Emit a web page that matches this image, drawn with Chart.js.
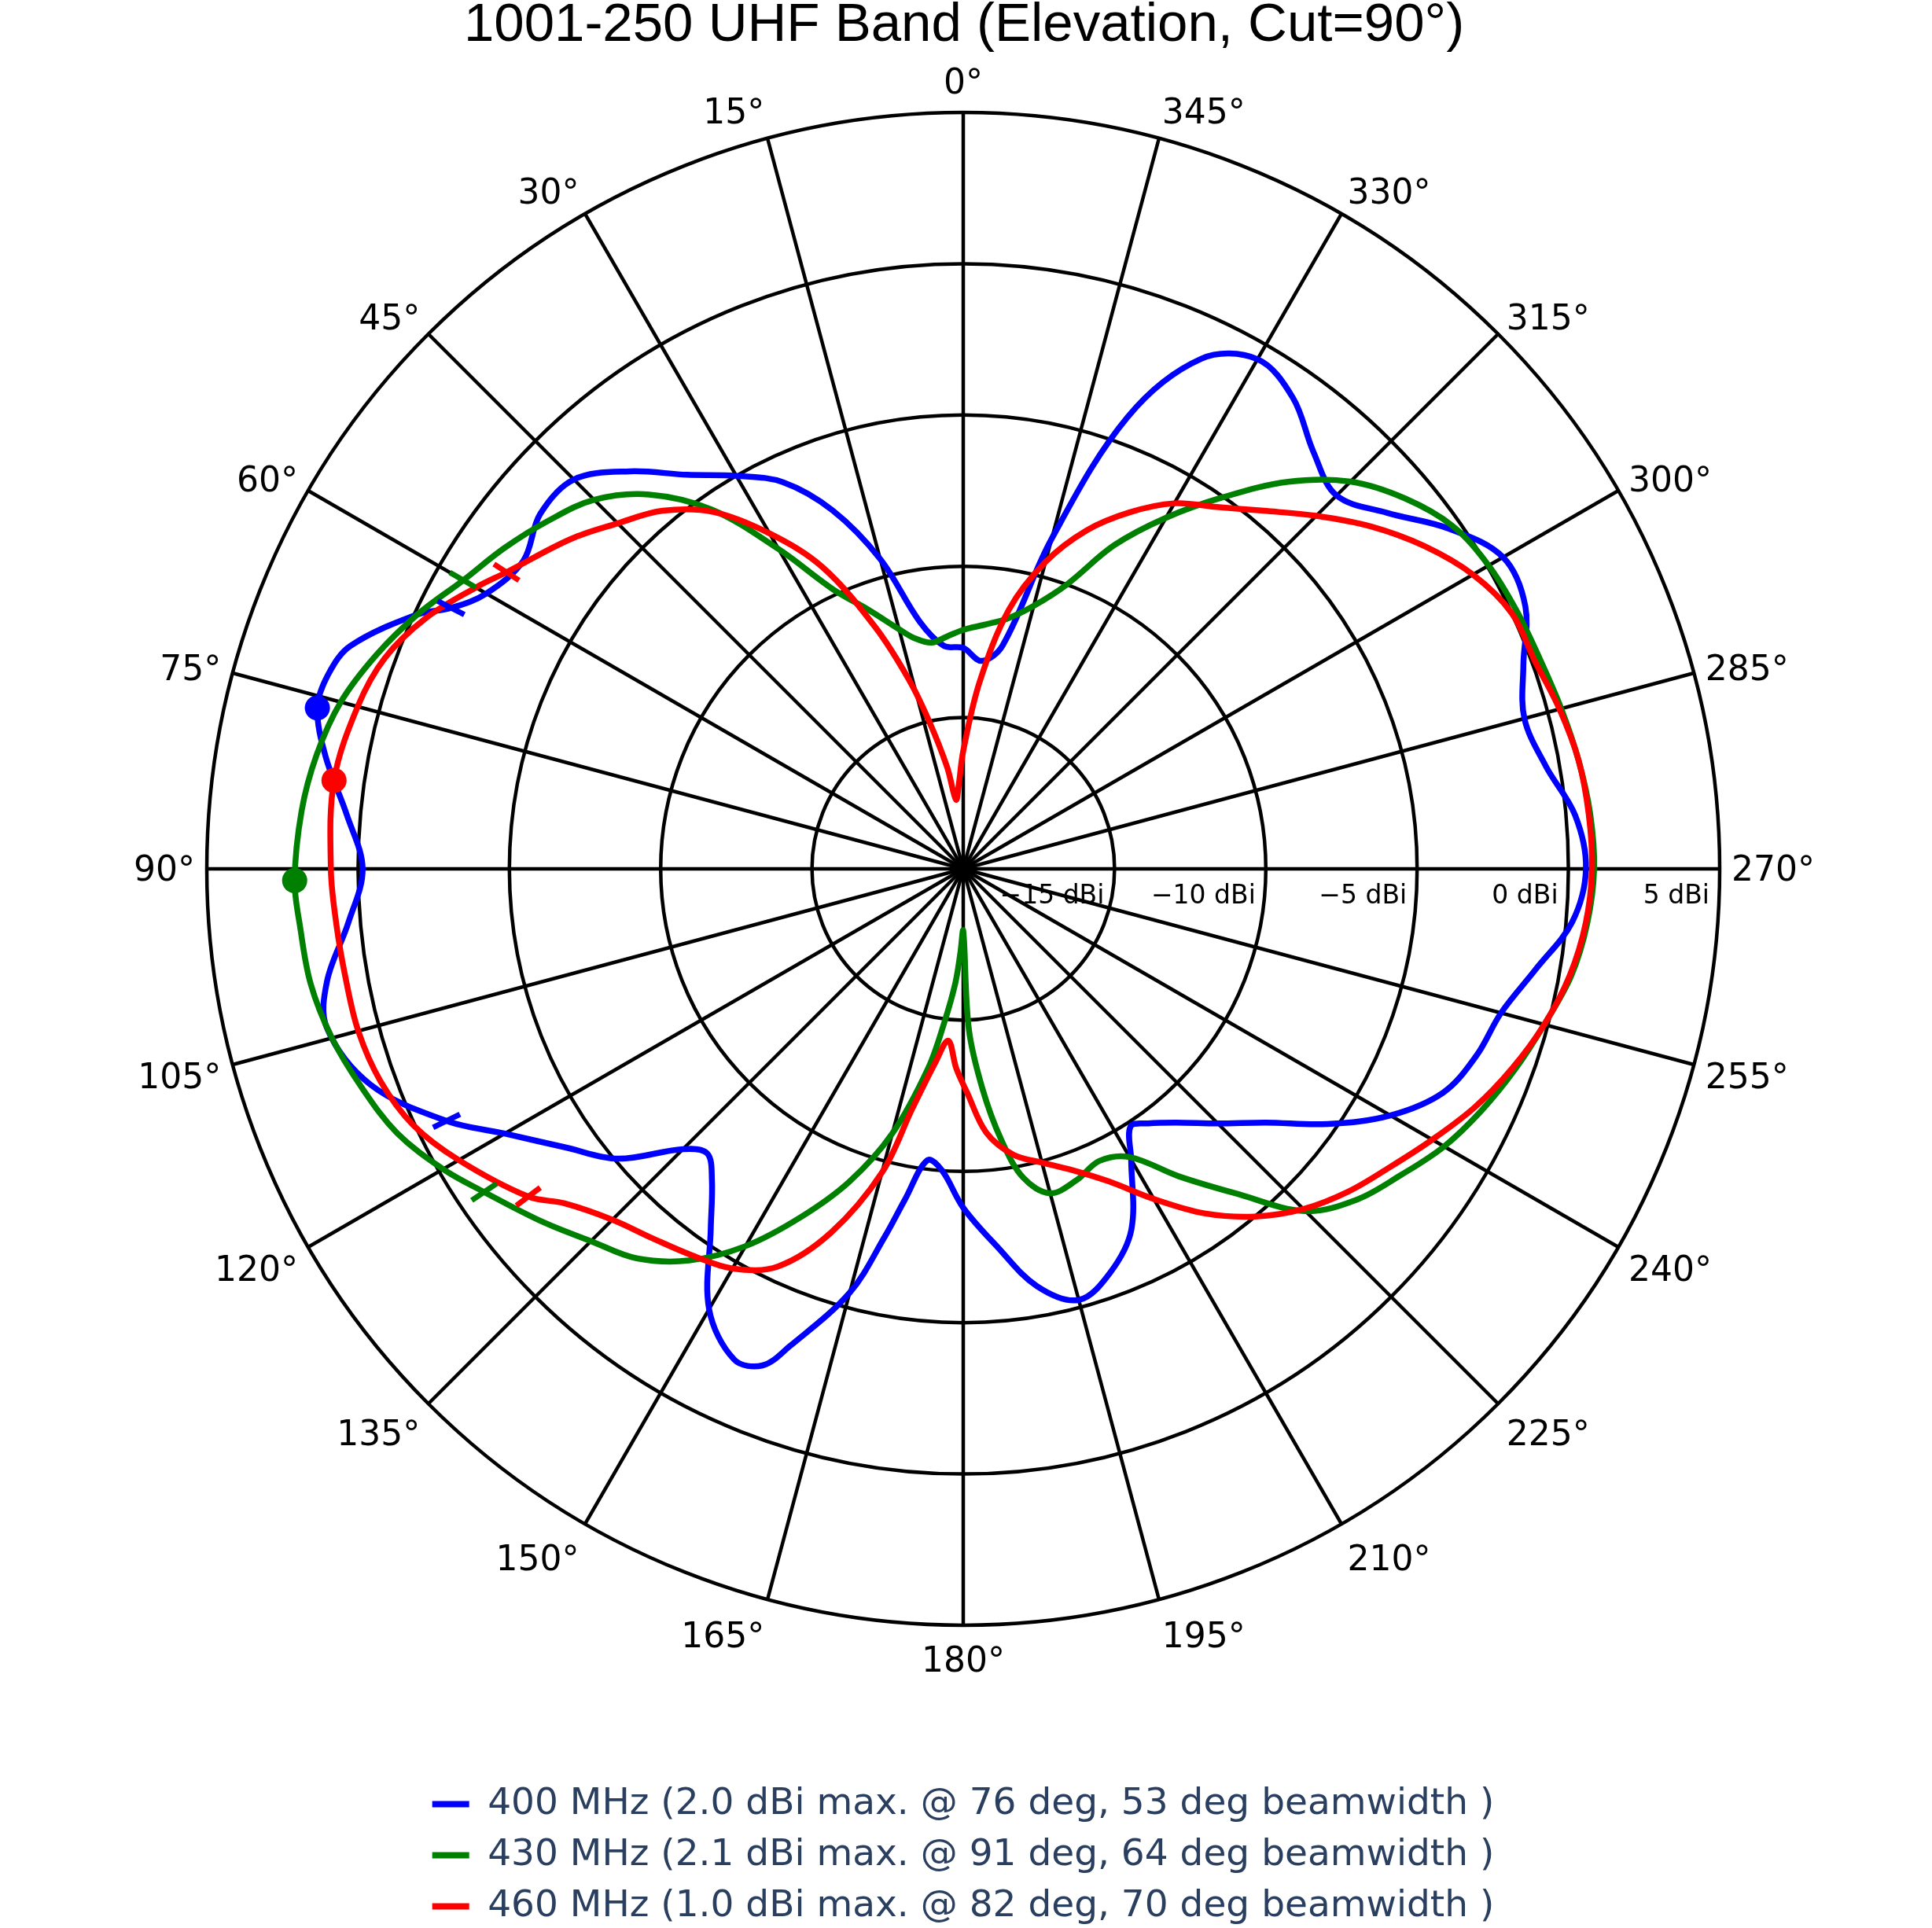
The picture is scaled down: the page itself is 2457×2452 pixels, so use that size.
<!DOCTYPE html>
<html>
<head>
<meta charset="utf-8">
<script src="https://cdn.jsdelivr.net/npm/chart.js@4.4.1/dist/chart.umd.min.js"></script>
<style>
  html, body { margin: 0; padding: 0; background: #fff; }
  #wrap { width: 2457px; height: 2452px; position: relative; }
</style>
</head>
<body>
<div id="wrap"><canvas id="pattern"></canvas></div>
<script>
const titleText = '1001-250 UHF Band (Elevation, Cut=90°)';
const angleTicks = [0, 15, 30, 45, 60, 75, 90, 105, 120, 135, 150, 165, 180, 195, 210, 225, 240, 255, 270, 285, 300, 315, 330, 345];
const radialTicks = [-15, -10, -5, 0, 5];
const radialTickLabels = ['−15 dBi', '−10 dBi', '−5 dBi', '0 dBi', '5 dBi'];

const seriesNames = [
  '400 MHz (2.0 dBi max. @ 76 deg, 53 deg beamwidth )',
  '430 MHz (2.1 dBi max. @ 91 deg, 64 deg beamwidth )',
  '460 MHz (1.0 dBi max. @ 82 deg, 70 deg beamwidth )'
];
const seriesColors = ['#0000ff', '#008000', '#ff0000'];

// 400 MHz
const blueAngles = [0, 5, 10, 15, 20, 25, 30, 35, 40, 45, 50, 55, 60, 63, 65, 70, 73, 76, 80, 85,
  90, 95, 100, 104, 110, 116, 120, 125, 130, 135, 138, 141, 145, 150, 155, 158, 160, 165, 168, 170,
  173, 176, 180, 185, 190, 195, 200, 205, 210, 213, 216, 220, 225, 230, 235, 240, 245, 250, 255, 260,
  265, 270, 275, 280, 285, 290, 295, 300, 305, 310, 315, 320, 325, 330, 335, 340, 345, 350, 355];
const blueGain = [-12.7, -12.6, -11.7, -9.4, -7.4, -5.9, -5.0, -4.1, -2.85, -1.8, -1.75, -2.25, -1.8, -1.0, -0.1, 1.55, 1.95, 2.0, 1.4, 0.45,
  -0.15, 0.4, 1.35, 1.68, 0.85, -1.0, -2.5, -3.95, -5.1, -6.9, -7.35, -6.8, -5.45, -3.2, -2.1, -2.3, -3.2, -5.5, -7.6, -8.9,
  -10.3, -10.0, -8.8, -7.5, -6.0, -5.25, -5.8, -6.85, -8.9, -9.85, -9.6, -9.05, -8.1, -6.95, -5.3, -3.7, -2.5, -1.95, -1.6, -0.8,
  0.2, 0.58, 0.3, -0.45, -0.8, -0.3, 0.5, 0.6, -0.4, -1.7, -2.55, -2.0, -1.0, -0.55, -1.4, -4.1, -8.7, -12.5, -13.1];

// 430 MHz
const greenAngles = [0, 4, 8, 12, 15, 20, 25, 30, 35, 40, 45, 50, 55, 60, 65, 70, 75, 80, 85, 91,
  95, 100, 105, 110, 115, 120, 124, 130, 135, 140, 145, 150, 155, 160, 165, 170, 173, 176, 178, 180,
  182, 185, 188, 191, 195, 200, 205, 210, 215, 220, 225, 230, 235, 240, 245, 250, 255, 260, 265, 270,
  275, 280, 285, 290, 295, 300, 305, 310, 315, 320, 325, 330, 335, 340, 345, 350, 355];
const greenGain = [-12.1, -12.3, -12.45, -12.2, -11.8, -10.9, -9.8, -7.8, -5.5, -3.85, -2.75, -2.1, -1.5, -0.92, -0.1, 0.65, 1.3, 1.7, 1.95, 2.1,
  2.0, 1.9, 1.6, 1.15, 0.65, -0.15, -0.9, -1.85, -2.6, -3.2, -4.2, -5.6, -7.3, -9.0, -10.95, -13.3, -14.9, -16.2, -17.2, -17.95,
  -14.7, -12.7, -10.95, -9.6, -8.9, -9.05, -9.35, -9.0, -7.6, -6.0, -4.0, -3.0, -2.35, -1.65, -1.1, -0.6, -0.12, 0.4, 0.7, 0.85,
  0.8, 0.65, 0.46, 0.28, 0.18, 0.05, -0.25, -0.95, -1.9, -3.3, -5.0, -6.6, -8.2, -10.0, -11.0, -11.6, -11.9];

// 460 MHz
const redAngles = [0, 3, 6, 9, 13, 16, 20, 25, 30, 35, 40, 45, 50, 57, 60, 65, 70, 75, 82, 90,
  95, 100, 105, 110, 115, 120, 127, 130, 135, 140, 145, 150, 155, 160, 165, 168, 172, 175, 178, 181,
  185, 190, 195, 200, 205, 210, 215, 220, 225, 230, 235, 240, 245, 250, 255, 260, 265, 270, 275, 280,
  285, 290, 295, 300, 305, 310, 315, 320, 325, 330, 335, 340, 345, 350, 355];
const redGain = [-16.1, -17.2, -17.7, -16.6, -15.0, -13.5, -11.5, -9.0, -7.2, -5.6, -4.55, -3.85, -3.05, -2.0, -1.4, -0.4, 0.35, 0.72, 1.0, 0.9,
  0.8, 0.73, 0.7, 0.5, 0.05, -0.75, -2.0, -2.8, -3.6, -4.05, -4.4, -4.75, -5.5, -7.2, -9.6, -11.9, -13.6, -14.3, -13.4, -12.6,
  -11.25, -10.4, -9.95, -9.4, -8.6, -7.4, -6.1, -5.0, -4.1, -3.4, -2.8, -2.1, -1.35, -0.7, -0.12, 0.35, 0.65, 0.78, 0.75, 0.65,
  0.4, 0.1, 0.0, -0.55, -1.4, -2.4, -3.5, -4.55, -5.4, -6.05, -7.0, -8.1, -9.5, -11.3, -13.8];

// max markers and -3 dB beam edges
const peakAngles = [76, 91, 82];
const peakGain = [2.0, 2.1, 1.0];
const edgeAngles = [[63, 116], [60, 124], [57, 127]];
const edgeGain = [-1.0, -0.9, -2.0];

// radar runs clockwise, the pattern counter-clockwise: one label per degree
const labels = Array.from({length: 360}, (_, i) => (360 - i) % 360);
const toIndex = a => (360 - a) % 360;
function spread(angles, values) {
  const out = new Array(360).fill(null);
  angles.forEach((a, k) => { out[toIndex(a)] = values[k]; });
  return out;
}

const curves = [[blueAngles, blueGain], [greenAngles, greenGain], [redAngles, redGain]];

const datasets = curves.map(([a, g], k) => ({
  label: seriesNames[k],
  data: spread(a, g),
  borderColor: seriesColors[k],
  backgroundColor: seriesColors[k],
  borderWidth: 7.5,
  borderJoinStyle: 'round',
  borderCapStyle: 'round',
  pointRadius: 0,
  pointHoverRadius: 0,
  tension: 0.35,
  spanGaps: true,
  fill: false,
  order: 6 - k
}));

seriesColors.forEach((c, k) => {
  datasets.push({
    label: 'edge' + k,
    data: spread(edgeAngles[k], [edgeGain[k], edgeGain[k]]),
    showLine: false,
    pointStyle: 'line',
    pointRadius: 19,
    pointBorderWidth: 7,
    pointBorderColor: c,
    pointBackgroundColor: c,
    pointRotation: ctx => 90 - labels[ctx.dataIndex],
    order: 2
  });
  datasets.push({
    label: 'peak' + k,
    data: spread([peakAngles[k]], [peakGain[k]]),
    showLine: false,
    pointStyle: 'circle',
    pointRadius: 16,
    pointBorderWidth: 0,
    pointBackgroundColor: c,
    pointBorderColor: c,
    order: 1
  });
});

const polarText = {
  id: 'polarText',
  afterDraw(chart) {
    const {ctx} = chart;
    const r = chart.scales.r;
    ctx.save();
    ctx.fillStyle = '#000';
    ctx.textBaseline = 'alphabetic';

    ctx.font = '69px "Liberation Sans", Arial, sans-serif';
    ctx.textAlign = 'center';
    ctx.fillText(titleText, r.xCenter + 1, 52);

    // angular tick labels, placed like plotly does
    const fs = 44, pad = 15;
    ctx.font = fs + 'px "DejaVu Sans"';
    angleTicks.forEach(a => {
      const p = r.getPointPosition(toIndex(a), r.drawingArea);
      const rad = (90 + a) * Math.PI / 180;
      const c = Math.cos(rad), s = Math.sin(rad);
      const ff = s > 0 ? 0.2 : 1;
      const x = p.x + c * pad;
      const y = p.y - s * (pad + fs * ff) + Math.abs(c) * fs * 0.35;
      ctx.textAlign = Math.abs(c) < 0.1 ? 'center' : (c > 0 ? 'left' : 'right');
      ctx.fillText(a + '°', x, y);
    });

    // radial tick labels along the 270° spoke
    ctx.font = '33px "DejaVu Sans"';
    ctx.textAlign = 'right';
    radialTicks.forEach((v, k) => {
      const d = r.getDistanceFromCenterForValue(v);
      ctx.fillText(radialTickLabels[k], r.xCenter + d - 13, r.yCenter + 44);
    });
    ctx.restore();
  }
};

new Chart(document.getElementById('pattern'), {
  type: 'radar',
  data: { labels, datasets },
  options: {
    responsive: true,
    maintainAspectRatio: false,
    animation: false,
    devicePixelRatio: 1,
    layout: { padding: { left: 263, right: 270, top: 0, bottom: -6 } },
    scales: {
      r: {
        min: -20,
        max: 5,
        startAngle: 0,
        ticks: { display: false, stepSize: 5 },
        grid: { circular: true, color: '#000', lineWidth: 4.5 },
        angleLines: {
          display: true,
          color: ctx => ctx.index % 15 === 0 ? '#000' : 'rgba(0,0,0,0)',
          lineWidth: ctx => ctx.index % 15 === 0 ? 4.5 : 0
        },
        pointLabels: { display: false }
      }
    },
    plugins: {
      tooltip: { enabled: false },
      legend: {
        position: 'bottom',
        title: { display: true, text: '', font: { size: 10 }, padding: { top: 12, bottom: 19 } },
        labels: {
          boxWidth: 47,
          boxHeight: 8,
          padding: 18,
          color: '#2a3f5f',
          font: { family: 'DejaVu Sans', size: 47 },
          filter: item => item.datasetIndex < 3,
          sort: (a, b) => a.datasetIndex - b.datasetIndex,
          generateLabels: chart => Chart.defaults.plugins.legend.labels.generateLabels(chart)
            .map(item => Object.assign(item, { lineWidth: 0 }))
        }
      }
    }
  },
  plugins: [polarText]
});
</script>
</body>
</html>
